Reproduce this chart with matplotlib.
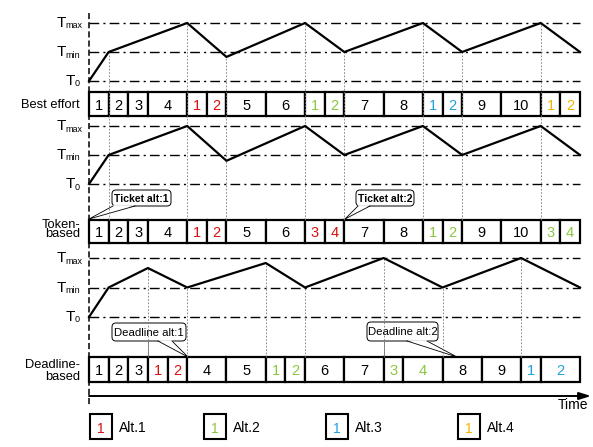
import numpy as np
import matplotlib.pyplot as plt
from matplotlib.patches import Rectangle, FancyBboxPatch, Polygon

plt.rcParams['font.family'] = ['Liberation Sans', 'DejaVu Sans']

W, H = 593, 447
unit = 19.64   # px per time slot
x0 = 89        # px of time zero

# temperature curves, level 0 = T0, 1 = Tmin, 2 = Tmax; time in slots
best_t = [0, 1, 5, 7, 11, 13, 17, 19, 23, 25]
best_T = [0, 1, 2, 0.83, 2, 1, 2, 1, 2, 1]
token_t = [0, 1, 5, 7, 11, 13, 17, 19, 23, 25]
token_T = [0, 1, 2, 0.8, 2, 1, 2, 1, 2, 1]
dead_t = [0, 1, 3, 5, 9, 11, 15, 18, 22, 25]
dead_T = [0, 1, 1.66, 1, 1.83, 1, 2, 1, 2, 1]

# schedule rows: label, width in slots, alternative (0 = normal task)
best_labels = ['1', '2', '3', '4', '1', '2', '5', '6', '1', '2', '7', '8', '1', '2', '9', '10', '1', '2']
best_widths = [1, 1, 1, 2, 1, 1, 2, 2, 1, 1, 2, 2, 1, 1, 2, 2, 1, 1]
best_alts = [0, 0, 0, 0, 1, 1, 0, 0, 2, 2, 0, 0, 3, 3, 0, 0, 4, 4]

token_labels = ['1', '2', '3', '4', '1', '2', '5', '6', '3', '4', '7', '8', '1', '2', '9', '10', '3', '4']
token_widths = [1, 1, 1, 2, 1, 1, 2, 2, 1, 1, 2, 2, 1, 1, 2, 2, 1, 1]
token_alts = [0, 0, 0, 0, 1, 1, 0, 0, 1, 1, 0, 0, 2, 2, 0, 0, 2, 2]

dead_labels = ['1', '2', '3', '1', '2', '4', '5', '1', '2', '6', '7', '3', '4', '8', '9', '1', '2']
dead_widths = [1, 1, 1, 1, 1, 2, 2, 1, 1, 2, 2, 1, 2, 2, 2, 1, 2]
dead_alts = [0, 0, 0, 1, 1, 0, 0, 2, 2, 0, 0, 2, 2, 0, 0, 3, 3]

alt_names = ['Alt.1', 'Alt.2', 'Alt.3', 'Alt.4']
alt_colors = ['black', '#d81010', '#8cc63f', '#1ea2dc', '#f4b400']

fig = plt.figure(figsize=(W / 100, H / 100), dpi=100)

# layout axes in pixels
lay = fig.add_axes([0, 0, 1, 1])
lay.set_xlim(0, W)
lay.set_ylim(H, 0)
lay.axis('off')

# time axes: x in slots, y in pixels
ax = fig.add_axes([0, 0, 1, 1])
ax.set_xlim(-x0 / unit, (W - x0) / unit)
ax.set_ylim(H, 0)
ax.axis('off')
ax.patch.set_alpha(0)


def panel_axes(T0px, Tmaxpx):
    s = (T0px - Tmaxpx) / 2
    pax = fig.add_axes([0, 0, 1, 1])
    pax.set_xlim(-x0 / unit, (W - x0) / unit)
    pax.set_ylim((T0px - H) / s, T0px / s)
    pax.axis('off')
    pax.patch.set_alpha(0)
    return pax, s


def draw_row(labels, widths, alts, top, bot):
    edges = np.concatenate([[0], np.cumsum(widths)])
    for i, lab in enumerate(labels):
        ax.add_patch(Rectangle((edges[i], top), widths[i], bot - top,
                               facecolor='white', edgecolor='black', lw=1.6, zorder=3))
        ax.text(edges[i] + widths[i] / 2, (top + bot) / 2 + 5.5, lab, ha='center',
                va='baseline', fontsize=10.5, color=alt_colors[alts[i]], zorder=4)


def t_label(y_line, sub):
    lay.text(66 if sub != '0' else 75.5, y_line + 4, 'T', ha='right', va='baseline', fontsize=11)
    lay.text(65 if sub != '0' else 75, y_line + 5.5, sub, ha='left', va='baseline', fontsize=6.5)


dashdot = (0, (7, 3, 1.5, 3))
guide = dict(colors='#777777', lw=0.6, linestyles=(0, (2, 2)), zorder=1)

panels = [
    (best_t, best_T, 81, 23, 220),
    (token_t, token_T, 184, 126, None),
    (dead_t, dead_T, 317, 258, 357),
]
for k, (tt, TT, T0px, Tmaxpx, guide_end) in enumerate(panels):
    pax, s = panel_axes(T0px, Tmaxpx)
    pax.hlines([0, 1, 2], 0, 25, colors='black', lw=1, linestyles=dashdot, zorder=1)
    pax.plot(tt, TT, color='black', lw=1.6, zorder=2)
    if guide_end is not None:
        low = (T0px - guide_end) / s
        first = 1 if k == 0 else 2
        pax.vlines(tt[first:-1], low, TT[first:-1], **guide)
    for lev, sub in zip([0, 1, 2], ['0', 'min', 'max']):
        t_label(T0px - lev * s, sub)

draw_row(best_labels, best_widths, best_alts, 92, 116)
draw_row(token_labels, token_widths, token_alts, 220, 243)
draw_row(dead_labels, dead_widths, dead_alts, 357, 382)

# row names
lay.text(80, 108.5, 'Best effort', ha='right', va='baseline', fontsize=9.3)
lay.text(80, 229.5, 'Token-\nbased', ha='right', va='center', fontsize=9.3,
         multialignment='right', linespacing=0.72)
lay.text(80, 371, 'Deadline-\nbased', ha='right', va='center', fontsize=9.3,
         multialignment='right', linespacing=0.92)

# solid drops below deadline callouts
for t in [dead_t[2], dead_t[6]]:
    ax.vlines(t, 341, 357, colors='#777777', lw=0.6, zorder=1)


def callout(x1, x2, y1, y2, text, tip, b1, b2, bold=False, size=8.2):
    lay.add_patch(FancyBboxPatch((x1, y1), x2 - x1, y2 - y1,
                                 boxstyle='round,pad=0,rounding_size=4',
                                 facecolor='white', edgecolor='black', lw=0.7, zorder=5))
    lay.add_patch(Polygon([(b1, y2 - 0.8), tip, (b2, y2 - 0.8)], closed=True,
                          facecolor='white', edgecolor='none', zorder=6))
    lay.plot([b1, tip[0], b2], [y2, tip[1], y2], color='black', lw=0.6, zorder=7)
    lay.text((x1 + x2) / 2, (y1 + y2) / 2 + 0.5, text, ha='center', va='center',
             fontsize=size, fontweight='bold' if bold else 'normal', zorder=8)


callout(112, 171, 190, 206, 'Ticket alt:1', (89, 219), 113, 135, bold=True, size=7.5)
callout(356, 414, 190, 206, 'Ticket alt:2', (345, 219), 358, 370, bold=True, size=7.5)
callout(112, 186, 323, 341, 'Deadline alt:1', (188, 357), 158, 172)
callout(367, 438, 322, 341, 'Deadline alt:2', (457, 357), 407, 427)

# time axis
lay.plot([89, 89], [13, 407], color='black', lw=1.1, linestyle=(0, (4, 2)), zorder=2)
lay.annotate('', xy=(591, 396), xytext=(89, 396),
             arrowprops=dict(arrowstyle='-|>,head_length=0.7,head_width=0.22',
                             color='black', lw=1.4, shrinkA=0, shrinkB=0))
lay.text(588, 409, 'Time', ha='right', va='baseline', fontsize=10)

# legend
leg_x = [90, 204, 326, 458]
for i, name in enumerate(alt_names):
    lay.add_patch(Rectangle((leg_x[i], 414), 22, 25, facecolor='white',
                            edgecolor='black', lw=1.5))
    lay.text(leg_x[i] + 11, 433, '1', ha='center', va='baseline', fontsize=10,
             color=alt_colors[i + 1])
    lay.text(leg_x[i] + 29, 431.5, name, ha='left', va='baseline', fontsize=10)

fig.savefig('out.png', dpi=100)
